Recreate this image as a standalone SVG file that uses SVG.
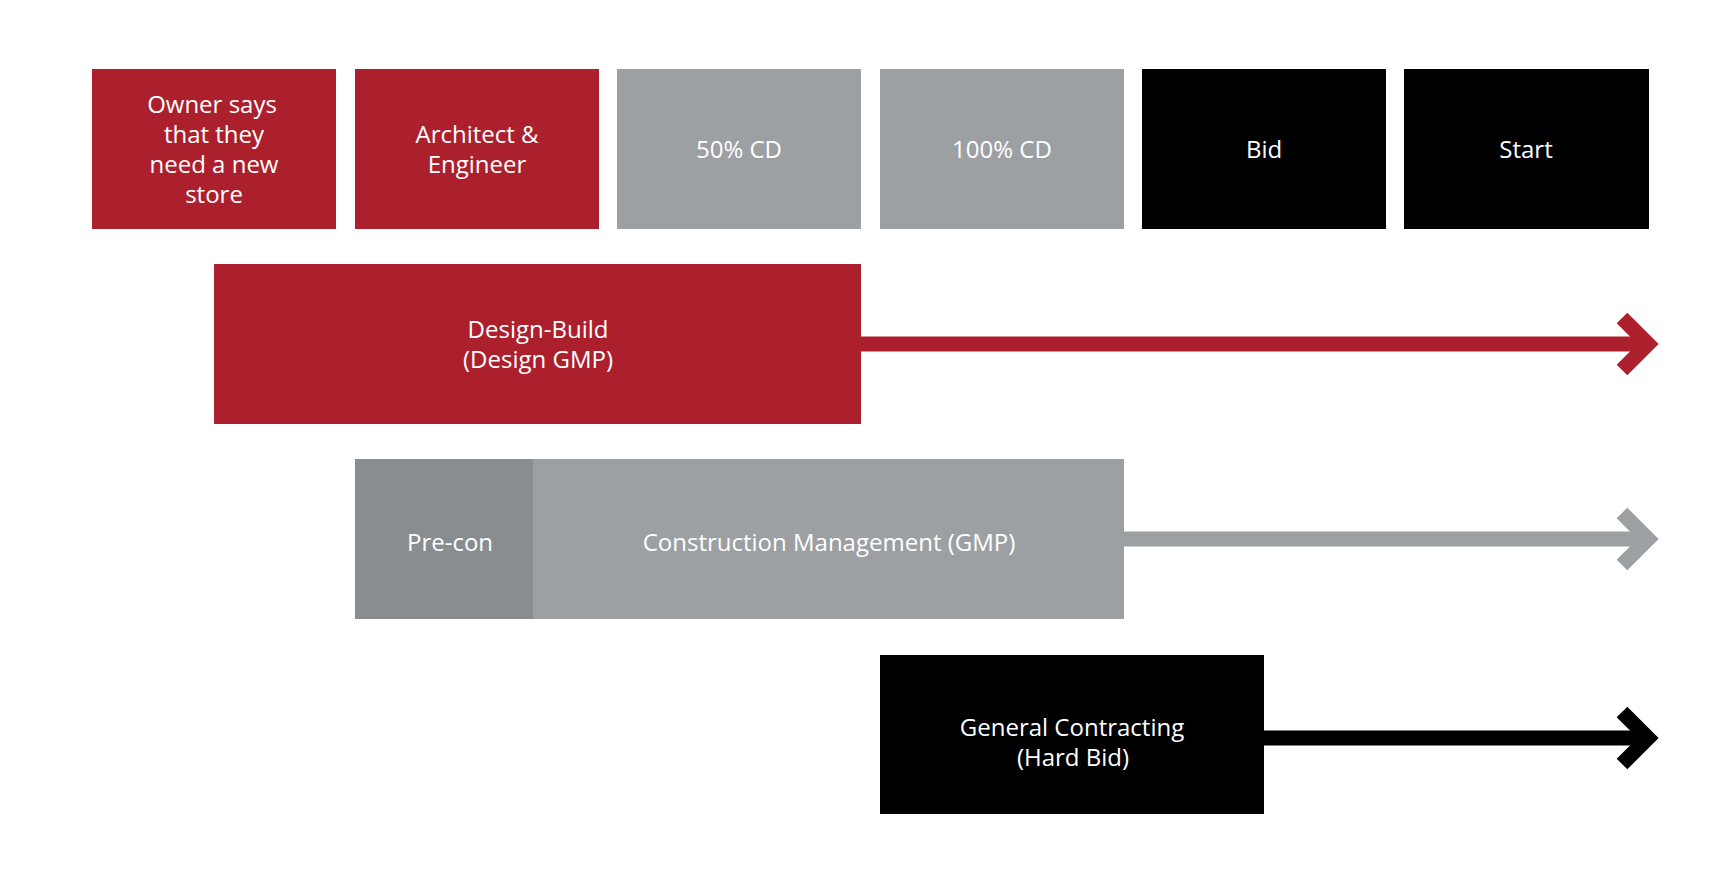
<svg xmlns="http://www.w3.org/2000/svg" width="1731" height="874" viewBox="0 0 1731 874">
<style>
.t{font-family:"Open Sans","Liberation Sans",sans-serif;font-size:24px;fill:#fff;text-anchor:middle;dominant-baseline:central}
.red{fill:#AC1F2D}.gray{fill:#9CA0A3}.dark{fill:#8A8D90}.blk{fill:#000}
.c{fill:none;stroke-width:15;stroke-linejoin:miter;stroke-miterlimit:10}
</style>
<rect width="1731" height="874" fill="#fff"/>
<g id="owner"><rect class="red" x="92" y="69" width="244" height="160"/><text class="t"><tspan x="212" y="103">Owner says</tspan><tspan x="214" y="133">that they</tspan><tspan x="214" y="163">need a new</tspan><tspan x="214" y="193">store</tspan></text></g>
<g id="architect"><rect class="red" x="355" y="69" width="244" height="160"/><text class="t"><tspan x="477" y="133">Architect &amp;</tspan><tspan x="477" y="163">Engineer</tspan></text></g>
<g id="cd50"><rect class="gray" x="617" y="69" width="244" height="160"/><text class="t" x="739" y="148">50% CD</text></g>
<g id="cd100"><rect class="gray" x="880" y="69" width="244" height="160"/><text class="t" x="1002" y="148">100% CD</text></g>
<g id="bid"><rect class="blk" x="1142" y="69" width="244" height="160"/><text class="t" x="1264" y="148">Bid</text></g>
<g id="start"><rect class="blk" x="1404" y="69" width="245" height="160"/><text class="t" x="1526" y="148">Start</text></g>
<g id="connectors">
<line class="c" stroke="#AC1F2D" x1="861" y1="344" x2="1648" y2="344"/><polyline class="c" stroke="#AC1F2D" points="1622,318 1648,344 1622,370"/>
<line class="c" stroke="#9CA0A3" x1="1124" y1="539" x2="1648" y2="539"/><polyline class="c" stroke="#9CA0A3" points="1622,513 1648,539 1622,565"/>
<line class="c" stroke="#000" x1="1264" y1="738" x2="1648" y2="738"/><polyline class="c" stroke="#000" points="1622,712 1648,738 1622,764"/>
</g>
<g id="designbuild"><rect class="red" x="214" y="264" width="647" height="160"/><text class="t"><tspan x="538" y="328">Design-Build</tspan><tspan x="538" y="358">(Design GMP)</tspan></text></g>
<g id="cm"><rect class="gray" x="533" y="459" width="591" height="160"/><text class="t" x="829" y="541">Construction Management (GMP)</text></g>
<g id="precon"><rect class="dark" x="355" y="459" width="178" height="160"/><text class="t" x="450" y="541">Pre-con</text></g>
<g id="gc"><rect class="blk" x="880" y="655" width="384" height="159"/><text class="t"><tspan x="1072" y="726">General Contracting</tspan><tspan x="1073" y="756">(Hard Bid)</tspan></text></g>
</svg>
